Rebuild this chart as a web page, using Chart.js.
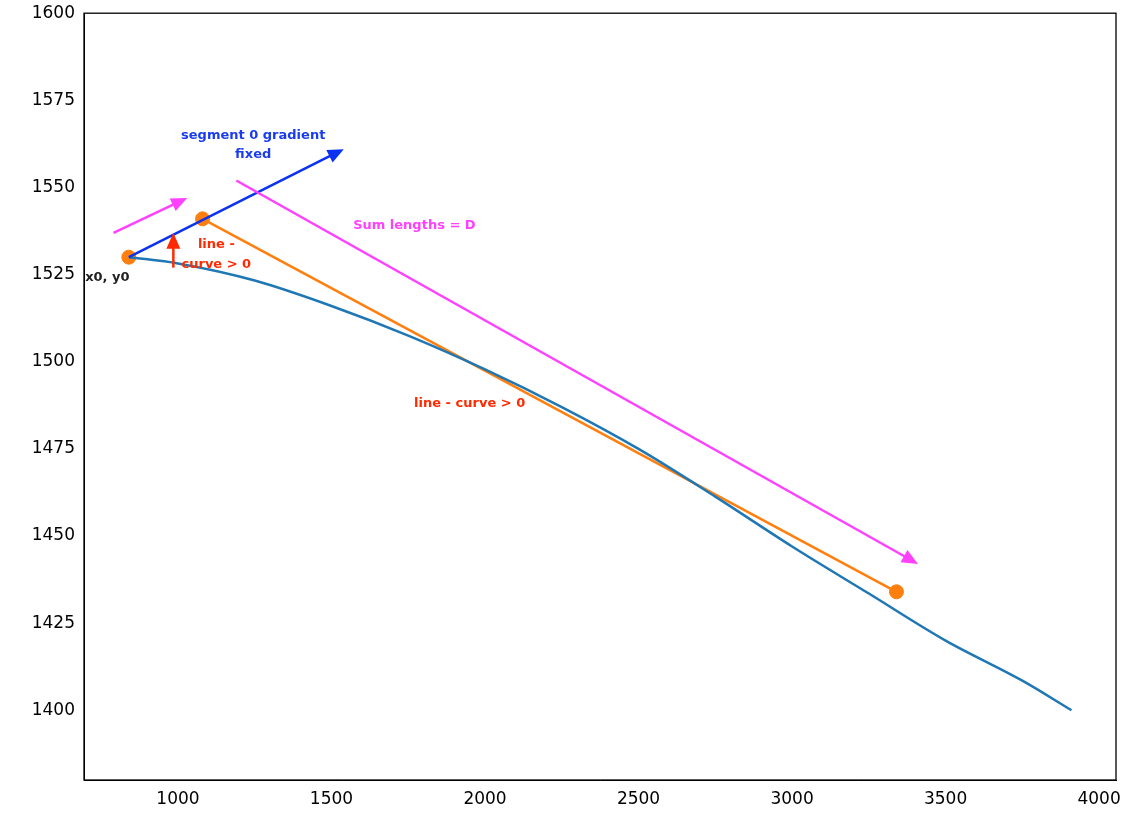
<!DOCTYPE html>
<html><head><meta charset="utf-8">
<script src="https://cdn.jsdelivr.net/npm/chart.js@4"></script>
<style>html,body{margin:0;background:#fff}#w{width:1141px;height:833px}</style>
</head><body><div id="w"><canvas id="c"></canvas></div>
<script>
const curveX=[840,1000,1250,1500,1750,2000,2250,2500,2750,3000,3250,3500,3750,3910];
const curveY=[1530,1528.2,1523.3,1516,1507.5,1497.8,1487,1475,1461.3,1447,1433.5,1420,1408.5,1400];
const lineX=[1080,3340];
const lineY=[1541,1434];
const pointX=[840,1080,3340];
const pointY=[1530,1541,1434];
const arrows=[[840,1530,1540,1561,'#0a32f0'],[790,1537,1030,1547,'#ff40ff'],[1190,1552,3410,1442,'#ff40ff'],[985,1527,985,1537,'#ff2a00']];
const labels=[["segment 0 gradient",1245,1565,'#1a3cf0'],["fixed",1245,1559.5,'#1a3cf0'],["Sum lengths = D",1770,1539,'#ff40ff'],["line -",1125,1533.5,'#ff2a00'],["curve > 0",1125,1528,'#ff2a00'],["x0, y0",770,1524,'#222'],["line - curve > 0",1950,1488,'#ff2a00']];
const arrowPlugin={id:'arr',afterDatasetsDraw(ch){const c=ch.ctx,xs=ch.scales.x,ys=ch.scales.y;
 arrows.forEach(a=>{const x1=xs.getPixelForValue(a[0]),y1=ys.getPixelForValue(a[1]),x2=xs.getPixelForValue(a[2]),y2=ys.getPixelForValue(a[3]);
  const ang=Math.atan2(y2-y1,x2-x1),L=16,W=7;
  c.save();c.strokeStyle=a[4];c.fillStyle=a[4];c.lineWidth=2.5;c.beginPath();c.moveTo(x1,y1);c.lineTo(x2-Math.cos(ang)*L*0.5,y2-Math.sin(ang)*L*0.5);c.stroke();
  c.beginPath();c.moveTo(x2,y2);c.lineTo(x2-L*Math.cos(ang)+W*Math.sin(ang),y2-L*Math.sin(ang)-W*Math.cos(ang));
  c.lineTo(x2-L*Math.cos(ang)-W*Math.sin(ang),y2-L*Math.sin(ang)+W*Math.cos(ang));c.closePath();c.fill();c.restore();});
 c.save();c.font='bold 13px "DejaVu Sans"';c.textAlign='center';c.textBaseline='middle';
 labels.forEach(l=>{c.fillStyle=l[3];c.fillText(l[0],xs.getPixelForValue(l[1]),ys.getPixelForValue(l[2]));});
 c.restore();
 const a=ch.chartArea;c.save();c.strokeStyle='#000';c.lineWidth=1.3;c.strokeRect(a.left,a.top,a.right-a.left,a.bottom-a.top);c.restore();}};
new Chart(document.getElementById('c'),{type:'scatter',
 data:{datasets:[
  {data:curveX.map((x,i)=>({x,y:curveY[i]})),showLine:true,borderColor:'#1f77b4',borderWidth:2.5,pointRadius:0,cubicInterpolationMode:'monotone'},
  {data:lineX.map((x,i)=>({x,y:lineY[i]})),showLine:true,borderColor:'#ff7f0e',borderWidth:2.5,pointRadius:0},
  {data:pointX.map((x,i)=>({x,y:pointY[i]})),showLine:false,backgroundColor:'#ff7f0e',borderColor:'#ff7f0e',pointRadius:7}
 ]},
 plugins:[arrowPlugin],
 options:{responsive:true,maintainAspectRatio:false,animation:false,
  layout:{padding:{top:4,right:25,bottom:0,left:0}},
  plugins:{legend:{display:false},tooltip:{enabled:false}},
  scales:{
   x:{type:'linear',min:694,max:4055,afterBuildTicks(s){s.ticks=[1000,1500,2000,2500,3000,3500,4000].map(v=>({value:v}));},
      afterFit(s){s.height=53;},
      grid:{display:false,drawTicks:true,tickLength:6,tickColor:'#000'},border:{color:'#000'},ticks:{color:'#000',font:{size:17,family:'DejaVu Sans'},callback:v=>String(v)}},
   y:{min:1380,max:1600,afterBuildTicks(s){const t=[];for(let v=1400;v<=1600;v+=25)t.push({value:v});s.ticks=t;},
      afterFit(s){s.width=84;},
      grid:{display:false,drawTicks:true,tickLength:6,tickColor:'#000'},border:{color:'#000'},ticks:{color:'#000',font:{size:17,family:'DejaVu Sans'},callback:v=>String(v)}}
  }}});
</script></body></html>
